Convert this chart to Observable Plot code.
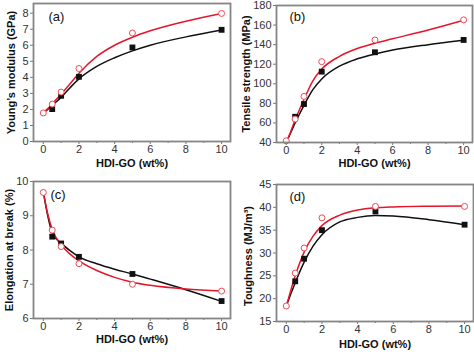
<!DOCTYPE html>
<html>
<head>
<meta charset="utf-8">
<script src="https://cdn.jsdelivr.net/npm/d3@7"></script>
<script src="https://cdn.jsdelivr.net/npm/@observablehq/plot@0.6"></script>
<style>
  html, body { margin: 0; padding: 0; background: #fff; }
  #root { position: relative; width: 474px; height: 362px; background: #fff; overflow: hidden; }
  #root svg { position: absolute; }
</style>
</head>
<body>
<div id="root"></div>
<script>
// ---- data ----
const concentrations = [0, 0.5, 1, 2, 5, 10];           // HDI-GO wt%
const modulusBlack    = [null, 2.02, 2.85, 4.03, 5.86, 6.96];
const modulusRed      = [1.78, 2.33, 3.08, 4.55, 6.76, 7.98];
const strengthBlack   = [null, 66.3, 79.3, 112.4, 132.2, 144.8];
const strengthRed     = [41.7, 63.9, 87.1, 122.6, 144.8, 165.3];
const elongationBlack = [null, 8.39, 8.19, 7.8, 7.3, 6.51];
const elongationRed   = [9.68, 8.58, 8.1, 7.6, 7.0, 6.8];
const toughnessBlack  = [null, 23.8, 28.75, 35.0, 39.1, 36.2];
const toughnessRed    = [18.4, 25.6, 31.1, 37.7, 40.2, 40.2];

// fitted curves
const fitX = [0, 0.25, 0.5, 1, 1.5, 2, 3, 4, 5, 6, 8, 10];
const modulusFitBlack    = [1.8, 2.0, 2.25, 2.75, 3.35, 3.9, 4.68, 5.22, 5.65, 6.0, 6.52, 6.95];
const modulusFitRed      = [1.8, 2.05, 2.35, 2.95, 3.6, 4.25, 5.3, 6.0, 6.5, 6.9, 7.5, 7.98];
const strengthFitBlack   = [40, 50, 60, 78, 94, 105, 118, 125.5, 130.5, 134.5, 140, 144.5];
const strengthFitRed     = [40, 51, 63, 84, 103, 115, 128, 136, 141.5, 146, 155, 165];
const elongationFitBlack = [9.7, 9.0, 8.5, 8.2, 7.98, 7.8, 7.6, 7.44, 7.3, 7.15, 6.84, 6.5];
const elongationFitRed   = [9.7, 9.05, 8.6, 8.15, 7.88, 7.68, 7.4, 7.2, 7.06, 6.97, 6.86, 6.8];
const toughnessFitBlack  = [18.4, 21, 23.5, 28, 31.5, 34, 36.8, 37.8, 38.2, 38.1, 37.3, 36.2];
const toughnessFitRed    = [18.4, 21.8, 25, 30.2, 33.7, 36, 38.3, 39.4, 39.9, 40.1, 40.25, 40.3];

// ticks and labels
const xTicks = [0, 2, 4, 6, 8, 10];
const xMinorTicks = [1, 3, 5, 7, 9];
const modulusTicks = [0, 1, 2, 3, 4, 5, 6, 7, 8];
const strengthTicks = [40, 60, 80, 100, 120, 140, 160, 180];
const elongationTicks = [6, 7, 8, 9, 10];
const toughnessTicks = [15, 20, 25, 30, 35, 40, 45];
const xLabel = "HDI-GO (wt%)";
const yLabels = ["Young’s modulus (GPa)", "Tensile strength (MPa)", "Elongation at break (%)", "Toughness (MJ/m³)"];
const panelTags = ["(a)", "(b)", "(c)", "(d)"];

const FONT = "'Liberation Sans', Arial, Helvetica, sans-serif";
const RED = "#e3162b";
const BLACK = "#111";
const intFormat = d3.format("d");

function panel(cfg) {
  const pts = concentrations.map((c, i) => ({x: c, black: cfg.black[i], red: cfg.red[i]}));
  const fit = fitX.map((c, i) => ({x: c, black: cfg.fitBlack[i], red: cfg.fitRed[i]}));
  const svg = Plot.plot({
    width: cfg.width, height: cfg.height,
    marginLeft: cfg.ml, marginRight: cfg.mr, marginTop: cfg.mt, marginBottom: cfg.mb,
    style: {fontFamily: FONT, fontSize: "11px", background: "transparent", overflow: "visible"},
    x: {domain: [-0.55, 10.5]},
    y: {domain: cfg.yDomain},
    marks: [
      Plot.line(fit, {x: "x", y: "black", stroke: BLACK, strokeWidth: 1.5, curve: "monotone-x"}),
      Plot.line(fit, {x: "x", y: "red", stroke: RED, strokeWidth: 1.5, curve: "monotone-x"}),
      Plot.dot(pts, {x: "x", y: "black", symbol: "square", r: 3.3, fill: BLACK, stroke: "none"}),
      Plot.dot(pts, {x: "x", y: "red", r: 3, fill: "white", stroke: "#ee4a55", strokeWidth: 1}),
      Plot.axisX({ticks: xTicks, tickSize: 3, tickPadding: 1, tickFormat: intFormat, label: null, color: "#333", stroke: "#777", fontSize: 11}),
      Plot.axisX({ticks: xMinorTicks, tickSize: 2, tickFormat: () => "", label: null, stroke: "#777"}),
      Plot.axisY({ticks: cfg.yTicks, tickSize: 3, tickPadding: 2, tickFormat: intFormat, label: null, color: "#333", stroke: "#777", fontSize: 11}),
      Plot.frame({stroke: "#858585", strokeWidth: 1.8}),
      Plot.text([cfg.tag], {frameAnchor: "top-left", dx: cfg.tagDx, dy: cfg.tagDy, text: d => d,
        textAnchor: "start", lineAnchor: "middle", fontSize: 13, fill: "#111"}),
      Plot.text([xLabel], {frameAnchor: "bottom", dy: cfg.xlDy, text: d => d,
        lineAnchor: "middle", fontSize: 11, fontWeight: "bold", fill: "#111"}),
      Plot.text([cfg.ylabel], {frameAnchor: "left", dx: cfg.ylDx, dy: cfg.ylDyOff || 0, text: d => d, rotate: -90,
        textAnchor: "middle", lineAnchor: "middle", fontSize: 11, fontWeight: "bold", fill: "#111"})
    ]
  });
  svg.style.left = cfg.left + "px";
  svg.style.top = cfg.top + "px";
  document.getElementById("root").appendChild(svg);
}

panel({left: 0, top: 0, width: 237, height: 181, ml: 33, mr: 7, mt: 3, mb: 40,
  yDomain: [0, 8.6], yTicks: modulusTicks, black: modulusBlack, red: modulusRed,
  fitBlack: modulusFitBlack, fitRed: modulusFitRed, tag: panelTags[0], tagDx: 15, tagDy: 13,
  xlDy: 22, ylabel: yLabels[0], ylDx: -22});
panel({left: 237, top: 0, width: 237, height: 181, ml: 39, mr: 2, mt: 5, mb: 39,
  yDomain: [40, 180], yTicks: strengthTicks, black: strengthBlack, red: strengthRed,
  fitBlack: strengthFitBlack, fitRed: strengthFitRed, tag: panelTags[1], tagDx: 13, tagDy: 11,
  xlDy: 21, ylabel: yLabels[1], ylDx: -30});
panel({left: 0, top: 176, width: 237, height: 186, ml: 33, mr: 7, mt: 5, mb: 44,
  yDomain: [6, 10], yTicks: elongationTicks, black: elongationBlack, red: elongationRed,
  fitBlack: elongationFitBlack, fitRed: elongationFitRed, tag: panelTags[2], tagDx: 17, tagDy: 13,
  xlDy: 21, ylabel: yLabels[2], ylDx: -24});
panel({left: 237, top: 176, width: 237, height: 186, ml: 39, mr: 1, mt: 8, mb: 41,
  yDomain: [15, 45], yTicks: toughnessTicks, black: toughnessBlack, red: toughnessRed,
  fitBlack: toughnessFitBlack, fitRed: toughnessFitRed, tag: panelTags[3], tagDx: 13, tagDy: 12,
  xlDy: 23, ylabel: yLabels[3], ylDx: -28, ylDyOff: 3});
</script>
</body>
</html>
